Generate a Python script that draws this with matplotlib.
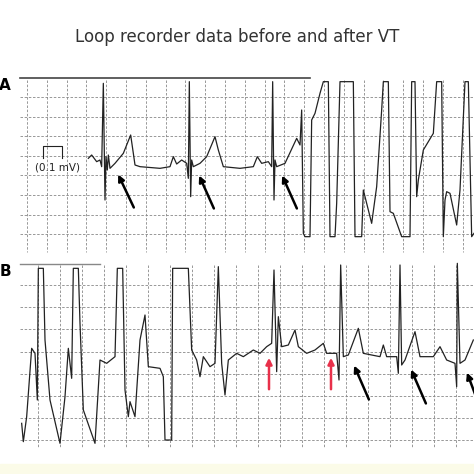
import numpy as np
import matplotlib.pyplot as plt

# traces, in pixel coordinates of the original strip (x, y down)
ax_zx = [265, 275, 290, 300, 305, 310, 315, 318, 322, 325, 330, 345, 370, 392, 400, 405, 420, 480, 510, 520, 530, 545, 560, 565, 568, 572, 575, 580, 600, 620, 645, 655, 670, 720, 760, 772, 785, 805, 815, 818, 822, 825, 830, 855, 890, 900,
         905, 910, 915, 930, 935, 945, 960, 970, 985, 990, 1005, 1010, 1020, 1025, 1060, 1065, 1085, 1090, 1115, 1130, 1145, 1150, 1165, 1170, 1180, 1205, 1230, 1235, 1245, 1250, 1255, 1270, 1300, 1310, 1325, 1330, 1335, 1340, 1350, 1370, 1380, 1395, 1405, 1415, 1422]
ax_zy = [295, 285, 305, 300, 320, 70, 420, 290, 330, 285, 325, 310, 280, 225, 280, 315, 320, 325, 320, 290, 312, 300, 310, 355, 65, 410, 300, 320, 310, 290, 230, 270, 320, 325, 320, 290, 310, 305, 320, 65, 420, 300, 320, 310, 235, 255,
         150, 520, 530, 530, 180, 160, 100, 65, 65, 530, 530, 430, 65, 65, 65, 530, 530, 390, 490, 380, 150, 65, 65, 455, 460, 530, 530, 65, 65, 410, 360, 270, 220, 65, 65, 530, 420, 395, 400, 495, 390, 65, 65, 530, 520]

bx_zx = [65, 70, 80, 95, 105, 112, 115, 130, 135, 150, 180, 195, 205, 215, 220, 235, 240, 250, 285, 300, 320, 345, 352, 368, 375, 385, 390, 405, 420, 435, 445, 480, 490, 495, 515, 518, 565, 575, 590, 600, 610, 630, 645, 655, 665, 675, 685, 710, 730, 760, 780, 800, 815, 822, 830, 835, 845, 865, 885, 895, 920, 945, 970, 980, 1010, 1017, 1022, 1030, 1045, 1075, 1090, 1140, 1150, 1160, 1190, 1195, 1200, 1205, 1215, 1245, 1260, 1300, 1320, 1340, 1365, 1370, 1372, 1380, 1395, 1420]
bx_zy = [520, 575, 500, 295, 310, 450, 55, 55, 270, 450, 580, 440, 295, 385, 55, 55, 220, 480, 580, 330, 340, 320, 55, 55, 420, 500, 455, 500, 270, 195, 350, 355, 380, 570, 570, 55, 55, 300, 330, 380, 320, 350, 340, 50, 340, 435, 330, 310, 320, 300, 310, 290, 280, 60, 365, 200, 290, 285, 240, 290, 310, 300, 280, 310, 310, 390, 45, 320, 315, 235, 310, 320, 285, 320, 320, 370, 45, 345, 330, 245, 320, 320, 290, 330, 340, 410, 40, 340, 330, 270]

title = 'Loop recorder data before and after VT'

ax_x = np.array(ax_zx) / 3
ax_y = np.array(ax_zy) / 3 + 60
bx_x = np.array(bx_zx) / 3
bx_y = np.array(bx_zy) / 3 + 250

fig = plt.figure(figsize=(4.74, 4.74), dpi=100)
ax = fig.add_axes([0, 0, 1, 1])
ax.set_xlim(0, 474)
ax.set_ylim(474, 0)
ax.axis('off')

grid = dict(color='#888888', lw=0.6, ls=(0, (3, 2)), zorder=1)
for x in np.arange(27, 474, 19.8):
    ax.plot([x, x], [80, 252], **grid)
for y in np.arange(97, 250, 19.6):
    ax.plot([20, 474], [y, y], **grid)
for x in np.arange(38, 474, 22):
    ax.plot([x, x], [265, 448], **grid)
for y in np.arange(285, 450, 22.2):
    ax.plot([20, 474], [y, y], **grid)
ax.plot([20, 310], [78, 78], color='#444444', lw=1.2)
ax.plot([20, 100], [264, 264], color='#888888', lw=1)

ax.plot(ax_x, ax_y, color='#222222', lw=0.9, zorder=3)
ax.plot(bx_x, bx_y, color='#222222', lw=0.9, zorder=3)

# calibration mark
ax.plot([43, 43, 62, 62], [158, 146, 146, 158], color='#222222', lw=0.8)
ax.text(58, 168, '(0.1 mV)', fontsize=7.5, ha='center', va='center', color='#222222')

black = dict(arrowstyle='-|>', color='black', lw=1.8, mutation_scale=9)
red = dict(arrowstyle='-|>', color='#e8304a', lw=1.8, mutation_scale=9)
for tail, head in [((135, 210), (117, 172)), ((215, 211), (198, 173)), ((298, 211), (281, 173)),
                   ((370, 402), (353, 363)), ((427, 406), (410, 367)), ((478, 402), (466, 370))]:
    ax.annotate('', xy=head, xytext=tail, arrowprops=black)
for x in [269, 331]:
    ax.annotate('', xy=(x, 355), xytext=(x, 392), arrowprops=red)

ax.text(237, 37, title, fontsize=12, ha='center', va='center', color='#333333')
ax.text(5, 85, 'A', fontsize=11, fontweight='bold', ha='center', va='center')
ax.text(5, 272, 'B', fontsize=11, fontweight='bold', ha='center', va='center')
ax.add_patch(plt.Rectangle((0, 464), 474, 10, color='#fbfbe8', zorder=0))

fig.savefig('out.png', dpi=100)
